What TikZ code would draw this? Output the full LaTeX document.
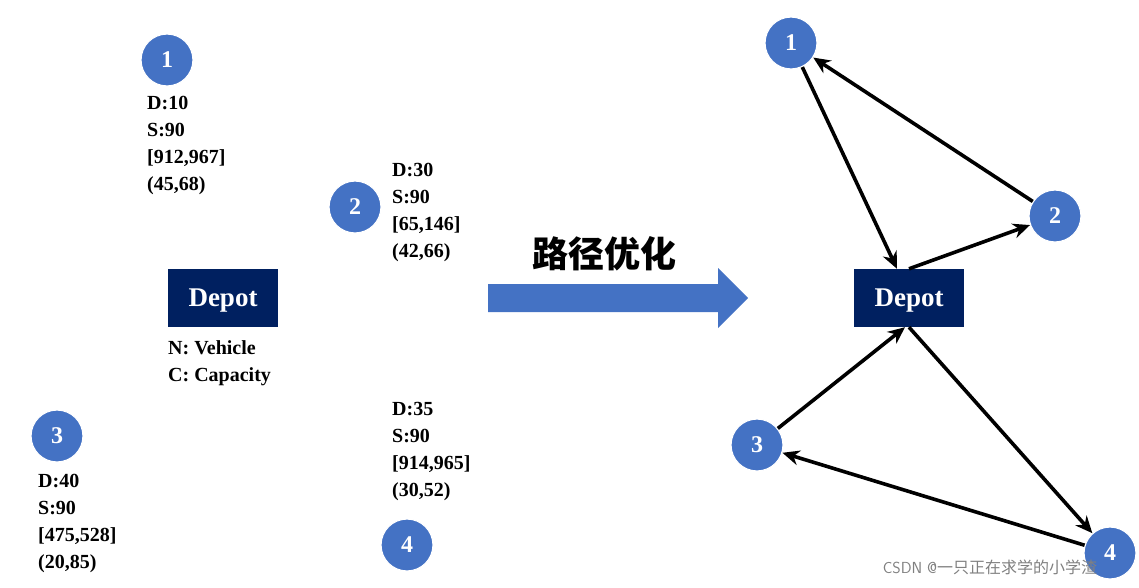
\documentclass[tikz,border=0pt]{standalone}
\usepackage{fontspec}
\setmainfont{Liberation Serif}
\newfontfamily\cjk{Noto Sans CJK SC}
\usetikzlibrary{arrows.meta}
\definecolor{cblue}{HTML}{4472C4}
\definecolor{navy}{HTML}{002060}
\begin{document}
\begin{tikzpicture}[x=1pt,y=-1pt,
  cnode/.style={circle,fill=cblue,draw=white,line width=1.2pt,minimum size=52pt,inner sep=0,text=white,font=\fontsize{24}{24}\selectfont\bfseries},
  depot/.style={fill=navy,minimum width=110pt,minimum height=58pt,inner sep=0,text=white,text depth=0pt,font=\fontsize{27}{27}\selectfont\bfseries},
  lbl/.style={anchor=north west,inner sep=0,align=left,font=\fontsize{20}{27}\selectfont\bfseries},
  edge/.style={line width=3.6pt,-{Stealth[length=17pt,width=15pt]}}]
\useasboundingbox (0,0) rectangle (1139,587);
% left
\node[cnode] (l1) at (167,60) {1};
\node[cnode] (l2) at (355,207) {2};
\node[cnode] (l3) at (57,436) {3};
\node[cnode] (l4) at (407,545) {4};
\node[depot] (ld) at (223,298) {Depot};
\node[lbl] (t1) at (147,96) {D:10\\S:90\\{[}912,967{]}\\(45,68)};
\node[lbl] (t2) at (392,163) {D:30\\S:90\\{[}65,146{]}\\(42,66)};
\node[lbl] (td) at (168,340) {N: Vehicle\\C: Capacity};
\node[lbl] (t3) at (38,474) {D:40\\S:90\\{[}475,528{]}\\(20,85)};
\node[lbl] (t4) at (392,402) {D:35\\S:90\\{[}914,965{]}\\(30,52)};
% arrow
\fill[cblue] (488,284) -- (718,284) -- (718,268) -- (748,298) -- (718,328) -- (718,312) -- (488,312) -- cycle;
\node[font=\cjk\fontsize{36}{36}\selectfont\bfseries] (tt) at (604,254) {路径优化};
% right
\node[cnode] (r1) at (791,43) {1};
\node[cnode] (r2) at (1055,216) {2};
\node[cnode] (r3) at (757,445) {3};
\node[cnode] (r4) at (1110,553) {4};
\node[depot] (rd) at (909,298) {Depot};
\draw[edge] (rd.north) -- (r2);
\draw[edge] (r2) -- (r1);
\draw[edge] (r1) -- ([xshift=-12pt]rd.north);
\draw[edge] (rd.south) -- (r4);
\draw[edge] (r4) -- (r3);
\draw[edge] (r3) -- ([xshift=-4pt]rd.south);
\node[text=gray,font=\fontsize{16}{16}\selectfont\sffamily] (wm) at (990,567) {CSDN @{\cjk 一只正在求学的小学渣}};
\end{tikzpicture}
\end{document}
